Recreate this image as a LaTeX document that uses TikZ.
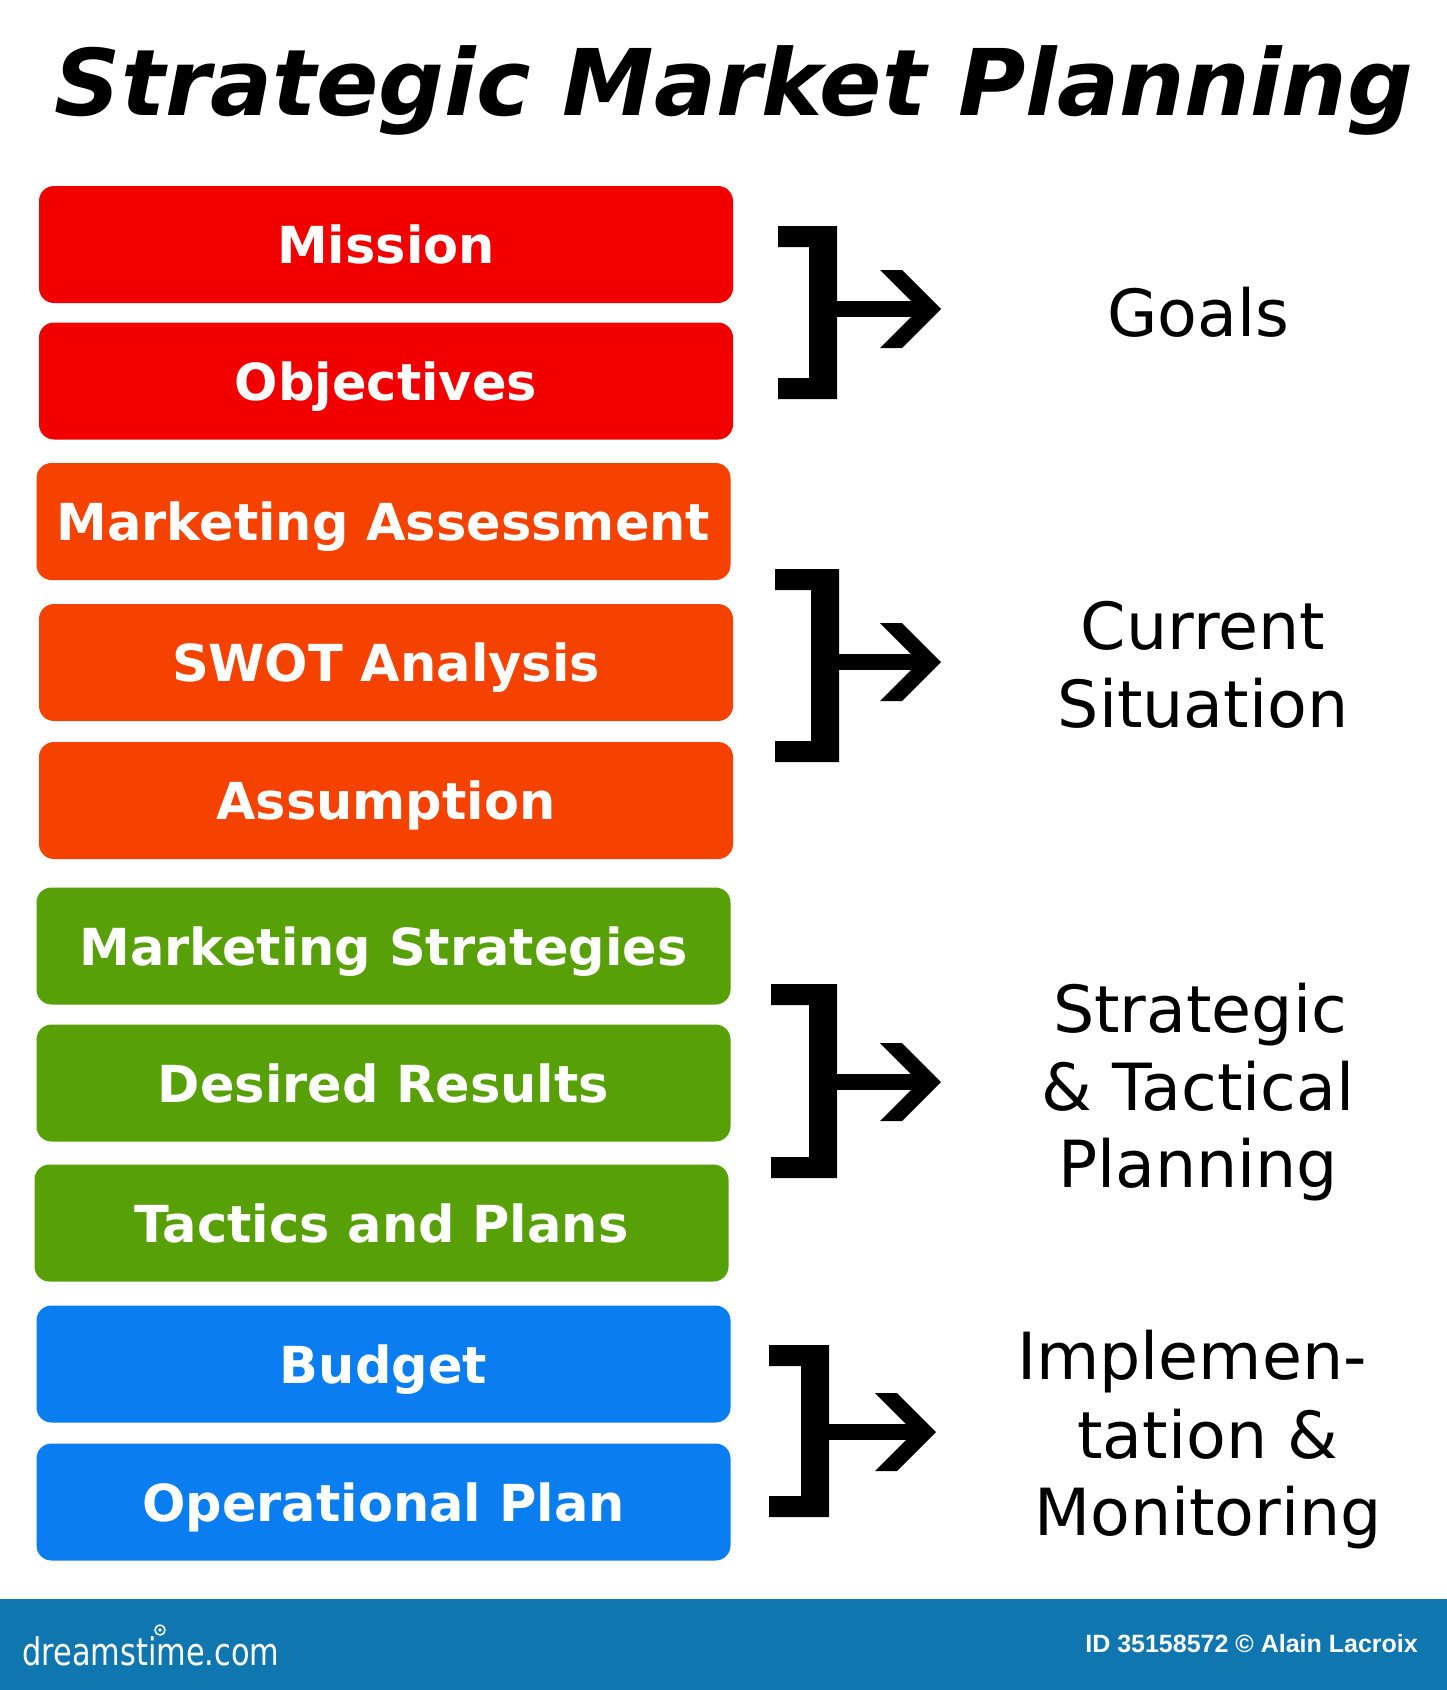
\documentclass[tikz,border=0pt]{standalone}
\usepackage{fontspec}
\setmainfont{DejaVu Sans}
\newfontfamily\barfont{Liberation Sans}
\definecolor{cred}{RGB}{242,0,0}
\definecolor{corange}{RGB}{245,66,0}
\definecolor{cgreen}{RGB}{88,160,8}
\definecolor{cblue}{RGB}{10,125,240}
\definecolor{cbar}{RGB}{16,118,176}
\newcommand\bracketArrow[6]{%
  \fill (#1,#3) -- (#2,#3) -- (#2,#4) -- (#1,#4) -- (#1,{#4-21}) -- ({#2-28},{#4-21})
        -- ({#2-28},{#3+21}) -- (#1,{#3+21}) -- cycle;
  \fill ({#2-2},{#5-8}) rectangle ({#6-20},{#5+8});
  \fill ({#6-61},{#5-39}) -- ({#6-39},{#5-39}) -- (#6,#5) -- ({#6-39},{#5+39})
        -- ({#6-61},{#5+39}) -- ({#6-22},#5) -- cycle;
}
\begin{document}
\begin{tikzpicture}[x=1pt,y=-1pt,
  boxst/.style={rounded corners=15pt, minimum width=694pt, minimum height=117pt,
    inner sep=0pt, text=white, font=\fontsize{51}{60}\selectfont\bfseries,
    text height=38pt, text depth=0pt},
  sidetext/.style={anchor=base, inner sep=0pt, font=\fontsize{65}{78}\selectfont},
]
\useasboundingbox (0,0) rectangle (1447,1690);
\fill[white] (0,0) rectangle (1447,1690);

% title
\node[anchor=base, inner sep=0pt, font=\fontsize{92}{100}\selectfont\bfseries\itshape] (title) at (734,115) {Strategic Market Planning};

% boxes
\node[boxst, fill=cred] (mission) at (386,244.5) {Mission};
\node[boxst, fill=cred] (objectives) at (386,381) {Objectives};
\node[boxst, fill=corange] (massess) at (383.5,521.5) {Marketing Assessment};
\node[boxst, fill=corange] (swot) at (386,662.5) {SWOT Analysis};
\node[boxst, fill=corange] (assump) at (386,800.5) {Assumption};
\node[boxst, fill=cgreen] (mstrat) at (383.5,946) {Marketing Strategies};
\node[boxst, fill=cgreen] (desired) at (383.5,1083) {Desired Results};
\node[boxst, fill=cgreen] (tactics) at (381.5,1223) {Tactics and Plans};
\node[boxst, fill=cblue] (budget) at (383.5,1364) {Budget};
\node[boxst, fill=cblue] (opplan) at (383.5,1502) {Operational Plan};

% brackets with arrows
\bracketArrow{778}{837}{226}{399}{309}{941}
\bracketArrow{775}{839}{569}{762}{662}{941}
\bracketArrow{771}{837}{984}{1178}{1082}{941}
\bracketArrow{769}{829}{1345}{1517}{1432}{936}

% side texts
\node[sidetext] (goals) at (1198,336) {Goals};
\node[sidetext] (cur1) at (1203,649) {Current};
\node[sidetext] (cur2) at (1203,727) {Situation};
\node[sidetext] (st1) at (1200,1032) {Strategic};
\node[sidetext] (st2) at (1198,1110) {\& Tactical};
\node[sidetext] (st3) at (1198,1187) {Planning};
\node[sidetext] (im1) at (1192,1379) {Implemen-};
\node[sidetext] (im2) at (1208,1458) {tation \&};
\node[sidetext] (im3) at (1208,1535) {Monitoring};

% bottom bar
\fill[cbar] (0,1599) rectangle (1447,1690);
\node[anchor=base west, inner sep=0pt, text=white, font=\fontsize{38}{40}\selectfont] (dt) at (22,1665) {\scalebox{0.8}[1]{dreamstime.com}};
\draw[white, line width=1.5pt] (160,1630) circle (5);
\fill[white] (160,1630) circle (1.8);
\node[anchor=base east, inner sep=0pt, text=white, font=\barfont\fontsize{25}{28}\selectfont\bfseries] (idtext) at (1418,1652) {ID 35158572 © Alain Lacroix};
\end{tikzpicture}
\end{document}
